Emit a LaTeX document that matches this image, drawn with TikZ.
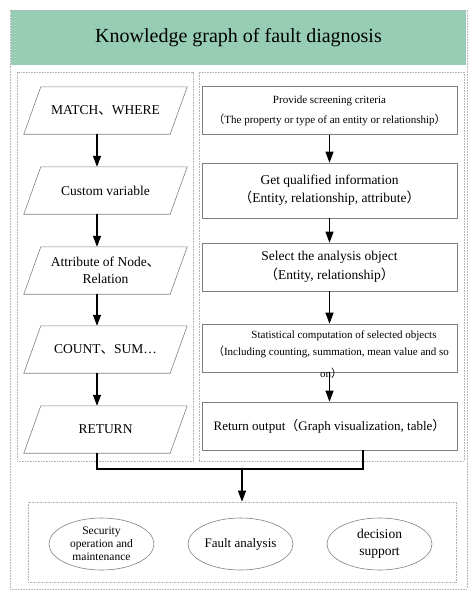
\documentclass[tikz,border=0pt]{standalone}
\usepackage{fontspec}
\setmainfont{Liberation Serif}
\newfontfamily\cjkfont{Noto Sans CJK SC}
\newcommand{\dun}{{\cjkfont 、}}
\newcommand{\lpar}{{\cjkfont （}}
\newcommand{\rpar}{{\cjkfont ）}}
\usetikzlibrary{shapes.geometric, arrows.meta}
\definecolor{headgreen}{RGB}{150,205,180}
\tikzset{
        panel/.style={draw=gray!60, dash pattern=on 1pt off 0.6pt, line width=0.6pt},
        query/.style={minimum width=163pt, minimum height=47pt, inner sep=0pt, align=center, font=\fontsize{13.5}{17}\selectfont},
        stepbox/.style={draw=gray, line width=0.6pt, minimum width=255pt, minimum height=48pt, inner sep=2pt, align=center},
        goal/.style={ellipse, draw=gray, line width=0.6pt, minimum width=105pt, minimum height=52pt, inner sep=0pt, align=center},
        flow/.style={-{Triangle[length=11pt,width=8pt]}, line width=1.1pt},
        link/.style={line width=1.1pt}
          }

\begin{document}
\begin{tikzpicture}[x=1pt, y=-1pt]
        \useasboundingbox (0,0) rectangle (474,598);
        % frames
        \node[fill=headgreen, minimum width=455pt, minimum height=55pt, font=\fontsize{20}{24}\selectfont] (title) at (238.5,37.5) {Knowledge graph of fault diagnosis};
        \node[panel, minimum width=457pt, minimum height=579pt] (outer) at (238.5,299.5) {};
        \node[panel, minimum width=176pt, minimum height=389pt] (leftpanel) at (105,266.5) {};
        \node[panel, minimum width=265pt, minimum height=389pt] (rightpanel) at (331.5,266.5) {};
        \node[panel, minimum width=428pt, minimum height=80pt] (goals) at (242,542) {};
        % query steps
        \node[query] (q1) at (105.5,110.5) {MATCH\dun WHERE};
        \node[query] (q2) at (105.5,190.5) {Custom variable};
        \node[query] (q3) at (105.5,270.5) {Attribute of Node\dun\\Relation};
        \node[query] (q4) at (105.5,349.5) {COUNT\dun SUM\ldots};
        \node[query] (q5) at (105.5,429.5) {RETURN};
        \foreach \i in {1,...,5}
          \draw[gray, line width=0.6pt] (q\i.south west) -- ([xshift=17pt]q\i.north west) -- (q\i.north east) -- ([xshift=-17pt]q\i.south east) -- cycle;
        \foreach \i [count=\j from 2] in {1,...,4}
          \draw[flow] ([xshift=-8.5pt]q\i.south) -- ([xshift=-8.5pt]q\j.north);
        % analysis steps
        \node[stepbox, font=\fontsize{11}{20}\selectfont] (r1) at (329.5,110.5) {Provide screening criteria\\\lpar The property or type of an entity or relationship\rpar};
        \node[stepbox, minimum height=55pt, font=\fontsize{13.5}{18}\selectfont] (r2) at (329.5,190.5) {Get qualified information\\\lpar Entity, relationship, attribute\rpar};
        \node[stepbox, font=\fontsize{13.5}{19}\selectfont] (r3) at (329.5,267) {Select the analysis object\\\lpar Entity, relationship\rpar};
        \node[stepbox] (r4) at (329.5,348) {};
        \node[align=center, font=\fontsize{11}{17}\selectfont] (r4text) at (331,355) {\hspace*{26pt}Statistical computation of selected objects\\\lpar Including counting, summation, mean value and so\\[5pt]on\rpar};
        \node[stepbox, font=\fontsize{13}{17}\selectfont] (r5) at (329.5,426) {Return output\lpar Graph visualization, table\rpar};
        \foreach \i [count=\j from 2] in {1,...,4}
          \draw[flow] (r\i.south) -- (r\j.north);
        % merge into applications
        \coordinate (join) at (242,469);
        \draw[link] ([xshift=-8.5pt]q5.south) |- (join) -| ([xshift=33.5pt]r5.south);
        \draw[flow] (join) -- (goals.north);
        \node[goal, font=\fontsize{11.5}{13}\selectfont] (security) at (101.5,544) {Security\\operation and\\maintenance};
        \node[goal, font=\fontsize{13}{17}\selectfont] (fault) at (240.5,544) {Fault analysis};
        \node[goal, font=\fontsize{13.5}{17}\selectfont] (decision) at (379.5,544) {decision\\support};
      \end{tikzpicture}
\end{document}
